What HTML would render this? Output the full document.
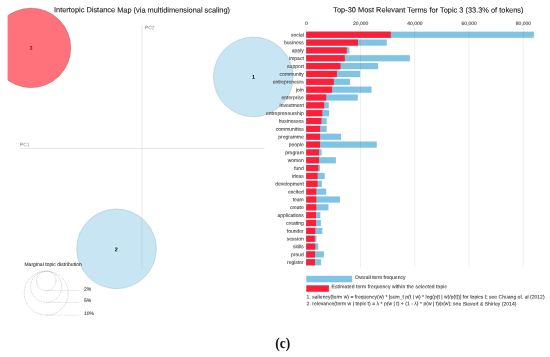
<!DOCTYPE html>
<html><head><meta charset="utf-8"><title>pyLDAvis</title>
<style>
html,body{margin:0;padding:0;background:#fff;}
body{width:550px;height:357px;overflow:hidden;}
svg{display:block;}
text{font-family:"Liberation Sans",Arial,sans-serif;text-rendering:geometricPrecision;}
.t{font-size:7.38px;fill:#1a1a1a;stroke:#1a1a1a;stroke-width:0.1px;}
.s{font-size:5px;fill:#3a3a3a;stroke:#3a3a3a;stroke-width:0.08px;}
.tm{font-size:5px;fill:#505050;stroke:#505050;stroke-width:0.12px;}
.ax{font-size:5px;fill:#444;stroke:#444;stroke-width:0.1px;}
.pc{font-size:5px;fill:#888;}
.cap{font-family:"Liberation Serif","DejaVu Serif",serif;font-weight:bold;font-size:15px;fill:#111;}
.lab{font-size:5.4px;font-weight:bold;fill:#000;}
</style></head><body>
<svg width="550" height="357" viewBox="0 0 550 357">
<rect width="550" height="357" fill="#fff"/>

<line x1="19.8" x2="264.5" y1="148.5" y2="148.5" stroke="#d8d8d8" stroke-width="0.6"/>
<line x1="142.0" x2="142.0" y1="25.4" y2="270.7" stroke="#d8d8d8" stroke-width="0.6"/>
<text class="pc" x="19.80" y="146.20" transform="rotate(0.03 19.80 146.20)">PC1</text>
<text class="pc" x="144.80" y="29.30" transform="rotate(0.03 144.80 29.30)">PC2</text>
<defs><clipPath id="cl"><rect x="7.6" y="0" width="300" height="357"/></clipPath></defs>
<g clip-path="url(#cl)"><circle cx="31" cy="47.9" r="39.7" fill="#ff727c" stroke="#b8605f" stroke-width="0.6"/></g>
<circle cx="253.3" cy="76.9" r="39.8" fill="#74bee1" fill-opacity="0.4" stroke="#a9bcc6" stroke-width="0.5"/>
<circle cx="116.5" cy="248.85" r="39.8" fill="#74bee1" fill-opacity="0.4" stroke="#a9bcc6" stroke-width="0.5"/>
<text class="lab" x="30.90" y="49.80" text-anchor="middle" transform="rotate(0.03 30.90 49.80)" style="fill:#a8001c">3</text>
<text class="lab" x="253.40" y="78.80" text-anchor="middle" transform="rotate(0.03 253.40 78.80)">1</text>
<text class="lab" x="116.30" y="251.30" text-anchor="middle" transform="rotate(0.03 116.30 251.30)">2</text>
<text class="t" x="142.00" y="12.40" text-anchor="middle" transform="rotate(0.03 142.00 12.40)" textLength="176">Intertopic Distance Map (via multidimensional scaling)</text>
<text class="t" x="428.40" y="12.40" text-anchor="middle" transform="rotate(0.03 428.40 12.40)" textLength="190.2">Top-30 Most Relevant Terms for Topic 3 (33.3% of tokens)</text>
<text class="s" x="24.40" y="266.10" transform="rotate(0.03 24.40 266.10)" textLength="57.4">Marginal topic distribution</text>
<circle cx="46.2" cy="280.90" r="9.7" fill="none" stroke="#999" stroke-width="0.5" stroke-dasharray="0.9 0.9"/>
<line x1="46.2" x2="79" y1="290.60" y2="290.60" stroke="#808080" stroke-opacity="0.3" stroke-width="0.5"/>
<text class="s" x="83.90" y="290.70" transform="rotate(0.03 83.90 290.70)">2%</text>
<circle cx="46.2" cy="286.80" r="15.6" fill="none" stroke="#999" stroke-width="0.5" stroke-dasharray="0.9 0.9"/>
<line x1="46.2" x2="79" y1="302.40" y2="302.40" stroke="#808080" stroke-opacity="0.3" stroke-width="0.5"/>
<text class="s" x="83.90" y="301.90" transform="rotate(0.03 83.90 301.90)">5%</text>
<circle cx="46.2" cy="293.20" r="22" fill="none" stroke="#999" stroke-width="0.5" stroke-dasharray="0.9 0.9"/>
<line x1="46.2" x2="79" y1="315.20" y2="315.20" stroke="#808080" stroke-opacity="0.3" stroke-width="0.5"/>
<text class="s" x="83.90" y="314.90" transform="rotate(0.03 83.90 314.90)">10%</text>
<rect x="306.2" y="31.63" width="227.70" height="6.2" fill="#80c4e4"/>
<rect x="306.2" y="39.48" width="80.60" height="6.2" fill="#80c4e4"/>
<rect x="306.2" y="47.32" width="43.20" height="6.2" fill="#80c4e4"/>
<rect x="306.2" y="55.17" width="103.70" height="6.2" fill="#80c4e4"/>
<rect x="306.2" y="63.01" width="71.90" height="6.2" fill="#80c4e4"/>
<rect x="306.2" y="70.86" width="53.90" height="6.2" fill="#80c4e4"/>
<rect x="306.2" y="78.71" width="43.90" height="6.2" fill="#80c4e4"/>
<rect x="306.2" y="86.55" width="65.30" height="6.2" fill="#80c4e4"/>
<rect x="306.2" y="94.40" width="51.60" height="6.2" fill="#80c4e4"/>
<rect x="306.2" y="102.24" width="22.60" height="6.2" fill="#80c4e4"/>
<rect x="306.2" y="110.09" width="22.90" height="6.2" fill="#80c4e4"/>
<rect x="306.2" y="117.94" width="20.50" height="6.2" fill="#80c4e4"/>
<rect x="306.2" y="125.78" width="20.50" height="6.2" fill="#80c4e4"/>
<rect x="306.2" y="133.63" width="34.80" height="6.2" fill="#80c4e4"/>
<rect x="306.2" y="141.47" width="70.60" height="6.2" fill="#80c4e4"/>
<rect x="306.2" y="149.32" width="15.40" height="6.2" fill="#80c4e4"/>
<rect x="306.2" y="157.17" width="29.70" height="6.2" fill="#80c4e4"/>
<rect x="306.2" y="165.01" width="13.90" height="6.2" fill="#80c4e4"/>
<rect x="306.2" y="172.86" width="18.50" height="6.2" fill="#80c4e4"/>
<rect x="306.2" y="180.70" width="15.70" height="6.2" fill="#80c4e4"/>
<rect x="306.2" y="188.55" width="20.00" height="6.2" fill="#80c4e4"/>
<rect x="306.2" y="196.40" width="33.80" height="6.2" fill="#80c4e4"/>
<rect x="306.2" y="204.24" width="22.30" height="6.2" fill="#80c4e4"/>
<rect x="306.2" y="212.09" width="14.20" height="6.2" fill="#80c4e4"/>
<rect x="306.2" y="219.93" width="14.70" height="6.2" fill="#80c4e4"/>
<rect x="306.2" y="227.78" width="16.20" height="6.2" fill="#80c4e4"/>
<rect x="306.2" y="235.63" width="10.30" height="6.2" fill="#80c4e4"/>
<rect x="306.2" y="243.47" width="12.10" height="6.2" fill="#80c4e4"/>
<rect x="306.2" y="251.32" width="17.70" height="6.2" fill="#80c4e4"/>
<rect x="306.2" y="259.16" width="14.90" height="6.2" fill="#80c4e4"/>
<line x1="306.20" x2="306.20" y1="26.5" y2="267" stroke="#000" stroke-opacity="0.12" stroke-width="0.6"/>
<text class="ax" x="306.50" y="25.00" text-anchor="middle" transform="rotate(0.03 306.50 25.00)">0</text>
<line x1="360.45" x2="360.45" y1="26.5" y2="267" stroke="#000" stroke-opacity="0.12" stroke-width="0.6"/>
<text class="ax" x="360.75" y="25.00" text-anchor="middle" transform="rotate(0.03 360.75 25.00)">20,000</text>
<line x1="414.70" x2="414.70" y1="26.5" y2="267" stroke="#000" stroke-opacity="0.12" stroke-width="0.6"/>
<text class="ax" x="415.00" y="25.00" text-anchor="middle" transform="rotate(0.03 415.00 25.00)">40,000</text>
<line x1="468.95" x2="468.95" y1="26.5" y2="267" stroke="#000" stroke-opacity="0.12" stroke-width="0.6"/>
<text class="ax" x="469.25" y="25.00" text-anchor="middle" transform="rotate(0.03 469.25 25.00)">60,000</text>
<line x1="523.20" x2="523.20" y1="26.5" y2="267" stroke="#000" stroke-opacity="0.12" stroke-width="0.6"/>
<text class="ax" x="523.50" y="25.00" text-anchor="middle" transform="rotate(0.03 523.50 25.00)">80,000</text>
<rect x="306.2" y="31.63" width="84.60" height="6.2" fill="#fd1f37"/>
<text class="tm" x="303.80" y="36.53" text-anchor="end" transform="rotate(0.03 303.80 36.53)">social</text>
<rect x="306.2" y="39.48" width="51.80" height="6.2" fill="#fd1f37"/>
<text class="tm" x="303.80" y="44.38" text-anchor="end" transform="rotate(0.03 303.80 44.38)">business</text>
<rect x="306.2" y="47.32" width="40.60" height="6.2" fill="#fd1f37"/>
<text class="tm" x="303.80" y="52.22" text-anchor="end" transform="rotate(0.03 303.80 52.22)">apply</text>
<rect x="306.2" y="55.17" width="38.60" height="6.2" fill="#fd1f37"/>
<text class="tm" x="303.80" y="60.07" text-anchor="end" transform="rotate(0.03 303.80 60.07)">impact</text>
<rect x="306.2" y="63.01" width="34.30" height="6.2" fill="#fd1f37"/>
<text class="tm" x="303.80" y="67.91" text-anchor="end" transform="rotate(0.03 303.80 67.91)">support</text>
<rect x="306.2" y="70.86" width="30.70" height="6.2" fill="#fd1f37"/>
<text class="tm" x="303.80" y="75.76" text-anchor="end" transform="rotate(0.03 303.80 75.76)">community</text>
<rect x="306.2" y="78.71" width="27.60" height="6.2" fill="#fd1f37"/>
<text class="tm" x="303.80" y="83.61" text-anchor="end" transform="rotate(0.03 303.80 83.61)">entrepreneurs</text>
<rect x="306.2" y="86.55" width="25.90" height="6.2" fill="#fd1f37"/>
<text class="tm" x="303.80" y="91.45" text-anchor="end" transform="rotate(0.03 303.80 91.45)">join</text>
<rect x="306.2" y="94.40" width="20.00" height="6.2" fill="#fd1f37"/>
<text class="tm" x="303.80" y="99.30" text-anchor="end" transform="rotate(0.03 303.80 99.30)">enterprise</text>
<rect x="306.2" y="102.24" width="18.00" height="6.2" fill="#fd1f37"/>
<text class="tm" x="303.80" y="107.14" text-anchor="end" transform="rotate(0.03 303.80 107.14)">investment</text>
<rect x="306.2" y="110.09" width="16.20" height="6.2" fill="#fd1f37"/>
<text class="tm" x="303.80" y="114.99" text-anchor="end" transform="rotate(0.03 303.80 114.99)">entrepreneurship</text>
<rect x="306.2" y="117.94" width="15.20" height="6.2" fill="#fd1f37"/>
<text class="tm" x="303.80" y="122.84" text-anchor="end" transform="rotate(0.03 303.80 122.84)">businesses</text>
<rect x="306.2" y="125.78" width="13.90" height="6.2" fill="#fd1f37"/>
<text class="tm" x="303.80" y="130.68" text-anchor="end" transform="rotate(0.03 303.80 130.68)">communities</text>
<rect x="306.2" y="133.63" width="13.90" height="6.2" fill="#fd1f37"/>
<text class="tm" x="303.80" y="138.53" text-anchor="end" transform="rotate(0.03 303.80 138.53)">programme</text>
<rect x="306.2" y="141.47" width="13.90" height="6.2" fill="#fd1f37"/>
<text class="tm" x="303.80" y="146.37" text-anchor="end" transform="rotate(0.03 303.80 146.37)">people</text>
<rect x="306.2" y="149.32" width="12.90" height="6.2" fill="#fd1f37"/>
<text class="tm" x="303.80" y="154.22" text-anchor="end" transform="rotate(0.03 303.80 154.22)">program</text>
<rect x="306.2" y="157.17" width="12.90" height="6.2" fill="#fd1f37"/>
<text class="tm" x="303.80" y="162.07" text-anchor="end" transform="rotate(0.03 303.80 162.07)">women</text>
<rect x="306.2" y="165.01" width="12.10" height="6.2" fill="#fd1f37"/>
<text class="tm" x="303.80" y="169.91" text-anchor="end" transform="rotate(0.03 303.80 169.91)">fund</text>
<rect x="306.2" y="172.86" width="11.40" height="6.2" fill="#fd1f37"/>
<text class="tm" x="303.80" y="177.76" text-anchor="end" transform="rotate(0.03 303.80 177.76)">ideas</text>
<rect x="306.2" y="180.70" width="11.40" height="6.2" fill="#fd1f37"/>
<text class="tm" x="303.80" y="185.60" text-anchor="end" transform="rotate(0.03 303.80 185.60)">development</text>
<rect x="306.2" y="188.55" width="10.10" height="6.2" fill="#fd1f37"/>
<text class="tm" x="303.80" y="193.45" text-anchor="end" transform="rotate(0.03 303.80 193.45)">excited</text>
<rect x="306.2" y="196.40" width="10.10" height="6.2" fill="#fd1f37"/>
<text class="tm" x="303.80" y="201.30" text-anchor="end" transform="rotate(0.03 303.80 201.30)">team</text>
<rect x="306.2" y="204.24" width="10.10" height="6.2" fill="#fd1f37"/>
<text class="tm" x="303.80" y="209.14" text-anchor="end" transform="rotate(0.03 303.80 209.14)">create</text>
<rect x="306.2" y="212.09" width="9.80" height="6.2" fill="#fd1f37"/>
<text class="tm" x="303.80" y="216.99" text-anchor="end" transform="rotate(0.03 303.80 216.99)">applications</text>
<rect x="306.2" y="219.93" width="9.80" height="6.2" fill="#fd1f37"/>
<text class="tm" x="303.80" y="224.83" text-anchor="end" transform="rotate(0.03 303.80 224.83)">creating</text>
<rect x="306.2" y="227.78" width="9.10" height="6.2" fill="#fd1f37"/>
<text class="tm" x="303.80" y="232.68" text-anchor="end" transform="rotate(0.03 303.80 232.68)">founder</text>
<rect x="306.2" y="235.63" width="8.60" height="6.2" fill="#fd1f37"/>
<text class="tm" x="303.80" y="240.53" text-anchor="end" transform="rotate(0.03 303.80 240.53)">session</text>
<rect x="306.2" y="243.47" width="9.10" height="6.2" fill="#fd1f37"/>
<text class="tm" x="303.80" y="248.37" text-anchor="end" transform="rotate(0.03 303.80 248.37)">skills</text>
<rect x="306.2" y="251.32" width="8.80" height="6.2" fill="#fd1f37"/>
<text class="tm" x="303.80" y="256.22" text-anchor="end" transform="rotate(0.03 303.80 256.22)">proud</text>
<rect x="306.2" y="259.16" width="8.80" height="6.2" fill="#fd1f37"/>
<text class="tm" x="303.80" y="264.06" text-anchor="end" transform="rotate(0.03 303.80 264.06)">register</text>
<rect x="306.3" y="275.8" width="45.9" height="6.5" fill="#80c4e4"/>
<rect x="306.3" y="285.3" width="22.6" height="6.5" fill="#fd1f37"/>
<text class="s" x="355.00" y="279.00" transform="rotate(0.03 355.00 279.00)" textLength="50.4">Overall term frequency</text>
<text class="s" x="331.60" y="288.30" transform="rotate(0.03 331.60 288.30)" textLength="115.4">Estimated term frequency within the selected topic</text>
<text class="s" x="306.60" y="298.50" transform="rotate(0.03 306.60 298.50)" textLength="238">1. saliency(term w) = frequency(w) * [sum_t p(t | w) * log(p(t | w)/p(t))] for topics t; see Chuang et. al (2012)</text>
<text class="s" x="306.60" y="305.30" transform="rotate(0.03 306.60 305.30)" textLength="209.8">2. relevance(term w | topic t) = λ * p(w | t) + (1 - λ) * p(w | t)/p(w); see Sievert &amp; Shirley (2014)</text>
<text class="cap" x="275.30" y="347.70" transform="rotate(0.03 275.30 347.70)" textLength="15" lengthAdjust="spacingAndGlyphs">(c)</text>
</svg></body></html>
